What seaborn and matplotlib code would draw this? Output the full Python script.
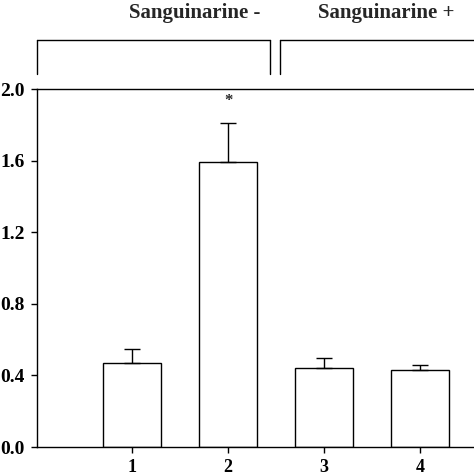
import matplotlib
matplotlib.use("Agg")
import matplotlib.pyplot as plt
import seaborn as sns
import pandas as pd

groups = ["1", "2", "3", "4"]
values = [0.47, 1.59, 0.44, 0.43]
errors = [0.08, 0.22, 0.06, 0.03]
yticks = [0.0, 0.4, 0.8, 1.2, 1.6, 2.0]

sns.set_style("ticks")
plt.rcParams['font.family'] = ['Liberation Serif', 'DejaVu Serif']
plt.rcParams['font.weight'] = 'bold'

fig = plt.figure(figsize=(4.74, 4.74), dpi=100)
W = 474
ax = fig.add_axes([37/W, (474-447)/W, 1.0, (447-89)/W])
df = pd.DataFrame({"g": [1, 2, 3, 4], "v": values})
ax.bar(df["g"], df["v"], width=0.6, color="white", edgecolor="black", linewidth=1)
ax.errorbar(df["g"], df["v"], yerr=[[0]*4, errors], fmt="none", ecolor="black",
            elinewidth=1, capsize=6, capthick=1)
ax.text(2, values[1] + errors[1] + 0.08, "*", ha="center", va="bottom", fontsize=12, fontweight="bold")
ax.set_xlim(0.01, 0.01 + W/96)
ax.set_ylim(0, 2.0)
ax.set_yticks(yticks)
ax.set_yticklabels([f"{t:.1f}" for t in yticks], fontsize=14, fontweight="bold")
ax.set_xticks([1, 2, 3, 4])
ax.set_xticklabels(groups, fontsize=13, fontweight="bold")
for s in ax.spines.values():
    s.set_linewidth(1)
    s.set_color("black")
ax.tick_params(direction="out", length=4, width=1, colors="black", pad=5)

def fy(p): return 1 - p / W
def fx(p): return p / W
for x0, x1 in [(37, 270), (280, 480)]:
    fig.add_artist(plt.Line2D([fx(x0), fx(x1)], [fy(40), fy(40)], color="black", lw=1))
    fig.add_artist(plt.Line2D([fx(x0), fx(x0)], [fy(40), fy(74)], color="black", lw=1))
    if x1 < 474:
        fig.add_artist(plt.Line2D([fx(x1), fx(x1)], [fy(40), fy(74)], color="black", lw=1))
fig.text(fx(195), fy(13), "Sanguinarine -", ha="center", va="center", fontsize=15, fontweight="bold")
fig.text(fx(318), fy(13), "Sanguinarine +", ha="left", va="center", fontsize=15, fontweight="bold")

fig.savefig("out.png", dpi=100)
